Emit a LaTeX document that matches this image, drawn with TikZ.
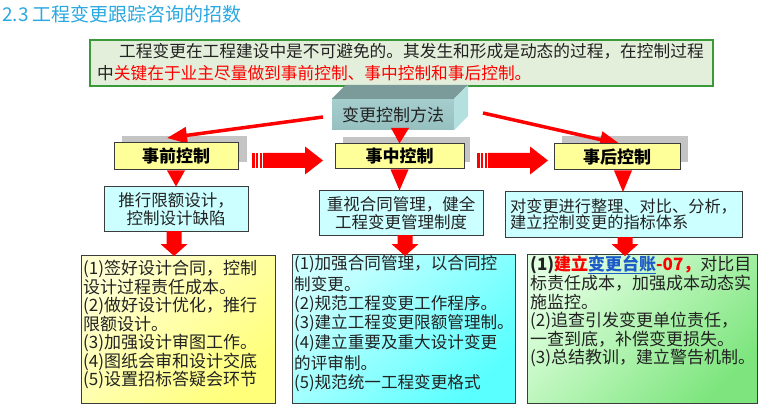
\documentclass[tikz,border=0pt]{standalone}
\usepackage{fontspec}
\setmainfont{Noto Sans CJK SC}
\usetikzlibrary{arrows.meta,calc}
\definecolor{titleblue}{HTML}{2AA8E0}
\definecolor{boxgreen}{HTML}{E3EFDA}
\definecolor{greenborder}{HTML}{3A9A3A}
\definecolor{edge}{HTML}{3C3C3C}
\definecolor{yel}{HTML}{FFFF99}
\definecolor{shadowgray}{HTML}{C4C4C4}
\definecolor{cyanbox}{HTML}{CCFFFF}
\definecolor{cubetop}{HTML}{7B9B9B}
\definecolor{cubefrontA}{HTML}{A6CDCD}
\definecolor{cubefrontB}{HTML}{96C0C0}
\definecolor{cubeside}{HTML}{B4E0E0}
\definecolor{txt}{HTML}{222222}
\definecolor{linkblue}{HTML}{1D5CC8}
\newcommand\stripedarrow[2]{%
  \fill[red] (#1,{#2-7.5}) rectangle ++(2.6,15);
  \fill[red] ({#1+3.8},{#2-7.5}) rectangle ++(2.6,15);
  \fill[red] ({#1+7.6},{#2-7.5}) rectangle ++(2.6,15);
  \fill[red] ({#1+11.2},{#2-7.5}) -- ({#1+53},{#2-7.5}) -- ({#1+53},{#2-14}) -- ({#1+71},#2) -- ({#1+53},{#2+14}) -- ({#1+53},{#2+7.5}) -- ({#1+11.2},{#2+7.5}) -- cycle;}
\newcommand\thickdown[3]{%
  \fill[red] ({#1-7.5},#2) -- ({#1+7.5},#2) -- ({#1+7.5},{#3-12}) -- ({#1+13.5},{#3-12}) -- (#1,#3) -- ({#1-13.5},{#3-12}) -- ({#1-7.5},{#3-12}) -- cycle;}
\begin{document}
\begin{tikzpicture}[x=1pt,y=-1pt,
  ybox/.style={draw=edge, fill=yel, line width=1, inner sep=0, font=\fontsize{17}{17}\selectfont\bfseries, text=black},
  bbox/.style={draw=edge, fill=cyanbox, line width=1, inner sep=0, text=txt},
  dbox/.style={draw=edge, line width=1, inner sep=0},
  btxt/.style={anchor=west, inner sep=0, text=txt, font=\fontsize{17}{17}\selectfont},
  mtxt/.style={anchor=west, inner sep=0, text=txt, font=\fontsize{16.6}{16.6}\selectfont},
  introtxt/.style={anchor=west, inner sep=0, text=txt, font=\fontsize{16.7}{16.7}\selectfont},
  redarrow/.style={draw=red, line width=3.5, -{Triangle[length=20pt,width=16pt]}}]
\useasboundingbox (0,0) rectangle (760,406);

% title
\node[anchor=west, inner sep=0, text=titleblue, font=\fontsize{19}{19}\selectfont] (title) at (2,14) {2.3 工程变更跟踪咨询的招数};

% intro box
\node[draw=greenborder, fill=boxgreen, line width=1.2, minimum width=623, minimum height=46, inner sep=0] (intro) at (401.5,63) {};
\node[introtxt] (intro1) at (119,51) {工程变更在工程建设中是不可避免的。其发生和形成是动态的过程，在控制过程};
\node[introtxt] (intro2) at (97,73) {中\textcolor{red}{关键在于业主尽量做到事前控制、事中控制和事后控制。}};

% cube
\node[minimum width=122, minimum height=31, inner sep=0, top color=cubefrontA, bottom color=cubefrontB, text=txt, font=\fontsize{17}{17}\selectfont] (method) at (393,114.5) {变更控制方法};
\fill[cubetop] (method.north west) -- ++(14,-14) -- ++(122,0) -- (method.north east) -- cycle;
\fill[cubeside] (method.north east) -- ++(14,-14) -- ++(0,31) -- (method.south east) -- cycle;

% shadows
\fill[shadowgray] (122,136) rectangle (247,162);
\fill[shadowgray] (343,137) rectangle (470,162);
\fill[shadowgray] (562,136) rectangle (688,162);

% red arrows from method
\coordinate (lA) at (323,117);
\coordinate (lB) at (167,138);
\coordinate (rA) at (483,113);
\coordinate (rB) at (620,144);
\draw[redarrow] (lA) -- (lB);
\draw[redarrow] (rA) -- (rB);

% yellow boxes
\node[ybox, minimum width=124, minimum height=27] (pre) at (176,156.5) {事前控制};
\node[ybox, minimum width=129, minimum height=25] (mid) at (399.5,156.5) {事中控制};
\node[ybox, minimum width=126, minimum height=26] (post) at (617,157) {事后控制};

\fill[red] (391,128) -- (409,128) -- (mid.north) -- cycle;

% striped arrows
\stripedarrow{252}{160.5}
\stripedarrow{477}{160.5}

% blue boxes
\node[bbox, minimum width=144, minimum height=44, align=center, font=\fontsize{16.5}{18.5}\selectfont] (bl) at (176,209) {推行限额设计，\\控制设计缺陷};
\node[bbox, minimum width=164, minimum height=44, align=center, font=\fontsize{16.5}{18}\selectfont] (bm) at (401,213) {重视合同管理，健全\\工程变更管理制度};
\node[bbox, minimum width=237, minimum height=45, align=left, font=\fontsize{16.2}{16.5}\selectfont] (br) at (623.5,214.5) {对变更进行整理、对比、分析，\\建立控制变更的指标体系};

\fill[red] ([xshift=-9pt]pre.south) -- ([xshift=9pt]pre.south) -- (bl.north) -- cycle;
\fill[red] ([xshift=-9pt]mid.south) -- ([xshift=9pt]mid.south) -- (mid.south |- bm.north) -- cycle;
\fill[red] (614,170.5) -- (632,170.5) -- (623,192) -- cycle;

% detail boxes
\node[dbox, top color=yel!45!white, bottom color=yel!80!yellow, shading angle=45, minimum width=194, minimum height=148] (dl) at (178,329) {};
\node[dbox, top color=cyanbox, bottom color=cyan!65!white, shading angle=45, minimum width=223, minimum height=149] (dm) at (403.5,328.5) {};
\node[dbox, top color=green!12!white, bottom color=green!45!white!90!black, shading angle=45, minimum width=230, minimum height=149] (dr) at (642,328.5) {};

\thickdown{174}{231}{256}
\thickdown{405}{235}{256}
\thickdown{625}{237}{256}

\node[btxt] (dl1) at (83,269) {(1)签好设计合同，控制};
\node[btxt] (dl2) at (83,287.5) {设计过程责任成本。};
\node[btxt] (dl3) at (83,306) {(2)做好设计优化，推行};
\node[btxt] (dl4) at (83,324.5) {限额设计。};
\node[btxt] (dl5) at (83,343) {(3)加强设计审图工作。};
\node[btxt] (dl6) at (83,361.5) {(4)图纸会审和设计交底};
\node[btxt] (dl7) at (83,380) {(5)设置招标答疑会环节};

\node[mtxt] (dm1) at (294,264) {(1)加强合同管理，以合同控};
\node[mtxt] (dm2) at (294,283.8) {制变更。};
\node[mtxt] (dm3) at (294,303.6) {(2)规范工程变更工作程序。};
\node[mtxt] (dm4) at (294,323.4) {(3)建立工程变更限额管理制。};
\node[mtxt] (dm5) at (294,343.2) {(4)建立重要及重大设计变更};
\node[mtxt] (dm6) at (294,363) {的评审制。};
\node[mtxt] (dm7) at (294,382.8) {(5)规范统一工程变更格式};

\node[btxt] (dr1) at (530,265) {{\bfseries(1)\textcolor{red}{建立}\textcolor{linkblue}{\underline{变更台账}}\textcolor{red}{-07，}}对比目};
\node[btxt] (dr2) at (530,283.6) {标责任成本，加强成本动态实};
\node[btxt] (dr3) at (530,302.2) {施监控。};
\node[btxt] (dr4) at (530,320.8) {(2)追查引发变更单位责任，};
\node[btxt] (dr5) at (530,339.4) {一查到底，补偿变更损失。};
\node[btxt] (dr6) at (530,358) {(3)总结教训，建立警告机制。};
\end{tikzpicture}
\end{document}
